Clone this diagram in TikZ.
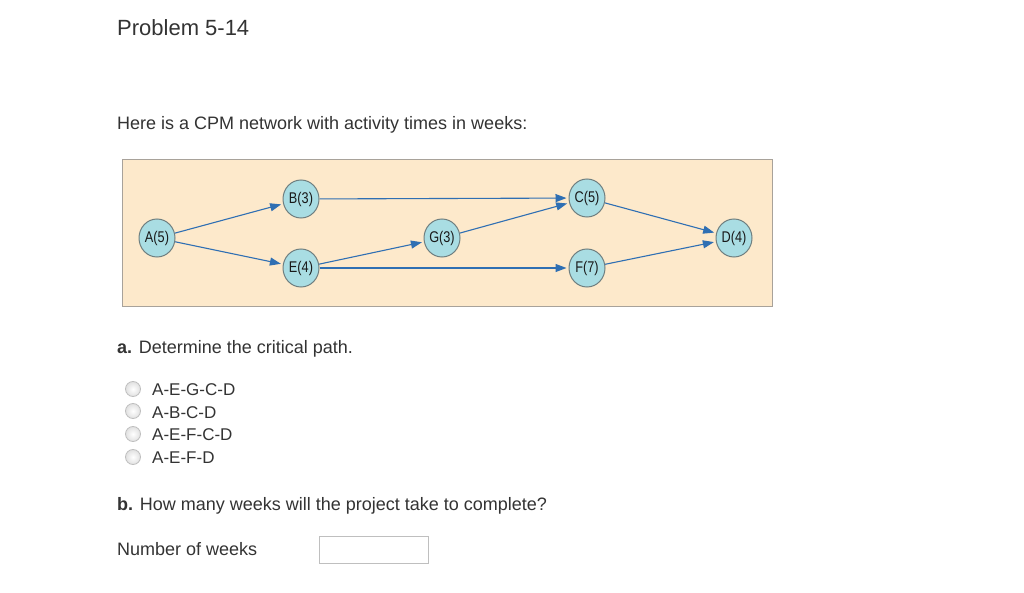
\documentclass[tikz,border=0pt]{standalone}
\usepackage{fontspec}
\setmainfont{Liberation Sans}
\newfontfamily\narrowfont[FakeStretch=0.82]{Liberation Sans}
\usetikzlibrary{arrows.meta,shapes.geometric}
\definecolor{txt}{HTML}{333333}
\definecolor{panel}{HTML}{FDE9CB}
\definecolor{panelborder}{HTML}{A8A29A}
\definecolor{nodefill}{HTML}{A9DDE3}
\definecolor{nodeborder}{HTML}{6F7F80}
\definecolor{arrowblue}{HTML}{2F6FB3}
\tikzset{
  act/.style={ellipse, draw=nodeborder, line width=1pt, fill=nodefill, minimum width=36pt, minimum height=38pt, inner sep=0pt, font=\narrowfont\fontsize{15.5}{16}\selectfont, text=black!90},
  flow/.style={draw=arrowblue, line width=1.1pt, -{Triangle[length=11pt,width=8pt]}, shorten >=2pt},
  txtline/.style={anchor=base west, inner sep=0pt, text=txt, font=\fontsize{18}{20}\selectfont},
  optline/.style={txtline, font=\fontsize{17}{19}\selectfont},
  radio/.style={circle, draw=black!25, line width=0.8pt, inner color=white, outer color=black!12, minimum size=15pt, inner sep=0pt}
}
\begin{document}
\begin{tikzpicture}[x=1pt,y=-1pt]
\useasboundingbox (0,0) rectangle (1024,593);
\fill[white] (0,0) rectangle (1024,593);
\node[txtline, font=\fontsize{22}{24}\selectfont] (title) at (117,36) {Problem 5-14};
\node[txtline] (intro) at (117,130) {Here is a CPM network with activity times in weeks:};
% panel
\draw[fill=panel, draw=panelborder, line width=1pt] (122,160) rectangle (772,306);
\node[act] (A) at (157,238) {A(5)};
\node[act] (B) at (301,199) {B(3)};
\node[act] (E) at (301,268) {E(4)};
\node[act] (G) at (442,238) {G(3)};
\node[act] (C) at (587,198) {C(5)};
\node[act] (F) at (587,268) {F(7)};
\node[act] (D) at (734,238) {D(4)};
\draw[flow] (A) -- (B);
\draw[flow] (A) -- (E);
\draw[flow] (B) -- (C);
\draw[flow] (E) -- (G);
\draw[flow] (E) -- (F);
\draw[flow] (G) -- (C);
\draw[flow] (C) -- (D);
\draw[flow] (F) -- (D);
% part a
\node[txtline] (qa) at (117,353) {\textbf{a.} Determine the critical path.};
\node[radio] (r1) at (133,389) {};
\node[radio] (r2) at (133,411) {};
\node[radio] (r3) at (133,434) {};
\node[radio] (r4) at (133,457) {};
\node[optline] (o1) at (152,395) {A-E-G-C-D};
\node[optline] (o2) at (152,418) {A-B-C-D};
\node[optline] (o3) at (152,440) {A-E-F-C-D};
\node[optline] (o4) at (152,463) {A-E-F-D};
% part b
\node[txtline] (qb) at (117,510) {\textbf{b.} How many weeks will the project take to complete?};
\node[txtline] (nw) at (117,555) {Number of weeks};
\node[draw=black!25, line width=0.9pt, fill=white, minimum width=109pt, minimum height=27pt, inner sep=0pt] (box) at (373.5,549.5) {};
\end{tikzpicture}
\end{document}
